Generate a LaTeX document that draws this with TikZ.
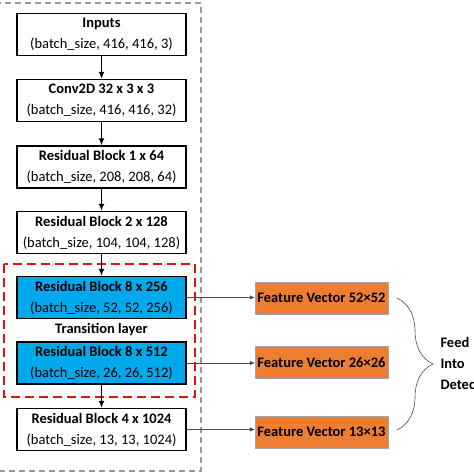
\documentclass[tikz,border=0pt]{standalone}
\usepackage{fontspec}
\setmainfont{Carlito}
\usepackage{tikz}
\usetikzlibrary{arrows.meta,positioning,decorations.pathreplacing}

\definecolor{blockblue}{RGB}{0,168,236}
\definecolor{featorange}{RGB}{237,125,49}
\definecolor{darkred}{RGB}{225,20,20}

\begin{document}
\begin{tikzpicture}[
        x=1pt, y=-1pt,
        every node/.style={color=black, font=\fontsize{14.5}{21}\selectfont},
        layer/.style={draw, line width=1.3pt, minimum width=169pt, minimum height=42pt, align=center, inner sep=0pt},
        hot layer/.style={layer, fill=blockblue},
        feature/.style={draw=gray!70, fill=featorange, minimum width=133pt, minimum height=32pt, inner sep=0pt, font=\fontsize{14.5}{21}\selectfont\bfseries},
        flow/.style={line width=1.5pt, -{Latex[length=7pt,width=6pt]}},
        tap/.style={draw=black!70, semithick, -{Latex[length=5pt,width=4.5pt]}}
    ]
    \useasboundingbox (0,0) rectangle (474,474);
    % backbone frame
    \draw[gray!80, line width=1.3pt, dash pattern=on 6pt off 4pt] (-5,3) -- (201,3) -- (201,471) -- (-5,471);
    \draw[darkred, line width=1.8pt, dash pattern=on 9pt off 5pt] (4,264) rectangle (195,397);
    % layers
    \node[layer] (inputs) at (101.5,34.5) {\textbf{Inputs}\\(batch\_size, 416, 416, 3)};
    \node[layer] (conv) at (101.5,100.5) {\textbf{Conv2D 32 x 3 x 3}\\(batch\_size, 416, 416, 32)};
    \node[layer] (res1) at (101.5,167) {\textbf{Residual Block 1 x 64}\\(batch\_size, 208, 208, 64)};
    \node[layer] (res2) at (101.5,232.5) {\textbf{Residual Block 2 x 128}\\(batch\_size, 104, 104, 128)};
    \node[hot layer] (res8a) at (101.5,297.5) {\textbf{Residual Block 8 x 256}\\(batch\_size, 52, 52, 256)};
    \node[font=\fontsize{14.5}{21}\selectfont\bfseries] (trans) at (101.5,330) {Transition layer};
    \node[hot layer] (res8b) at (101.5,363) {\textbf{Residual Block 8 x 512}\\(batch\_size, 26, 26, 512)};
    \node[layer] (res4) at (101.5,429.5) {\textbf{Residual Block 4 x 1024}\\(batch\_size, 13, 13, 1024)};
    % feature outputs
    \node[feature] (f52) at (321.5,298) {Feature Vector 52×52};
    \node[feature] (f26) at (321.5,362.5) {Feature Vector 26×26};
    \node[feature] (f13) at (321.5,432) {Feature Vector 13×13};
    \node[anchor=west, align=left, font=\fontsize{14.5}{21}\selectfont\bfseries] (detect) at (437,363) {Feed\\Into\\Detector};
    % arrows
    \draw[flow] (inputs) -- (conv);
    \draw[flow] (conv) -- (res1);
    \draw[flow] (res1) -- (res2);
    \draw[flow] (res2) -- (res8a);
    \draw[flow] (res8b) -- (res4);
    \draw[tap] (res8a.east) -- (f52.west |- res8a.east);
    \draw[tap] (res8b.east) -- (f26.west |- res8b.east);
    \draw[tap] (res4.east) -- (f13.west |- res4.east);
    \draw[black!70, semithick, decorate, decoration={brace, amplitude=36pt}] (397,298) -- (397,430);
\end{tikzpicture}
\end{document}
